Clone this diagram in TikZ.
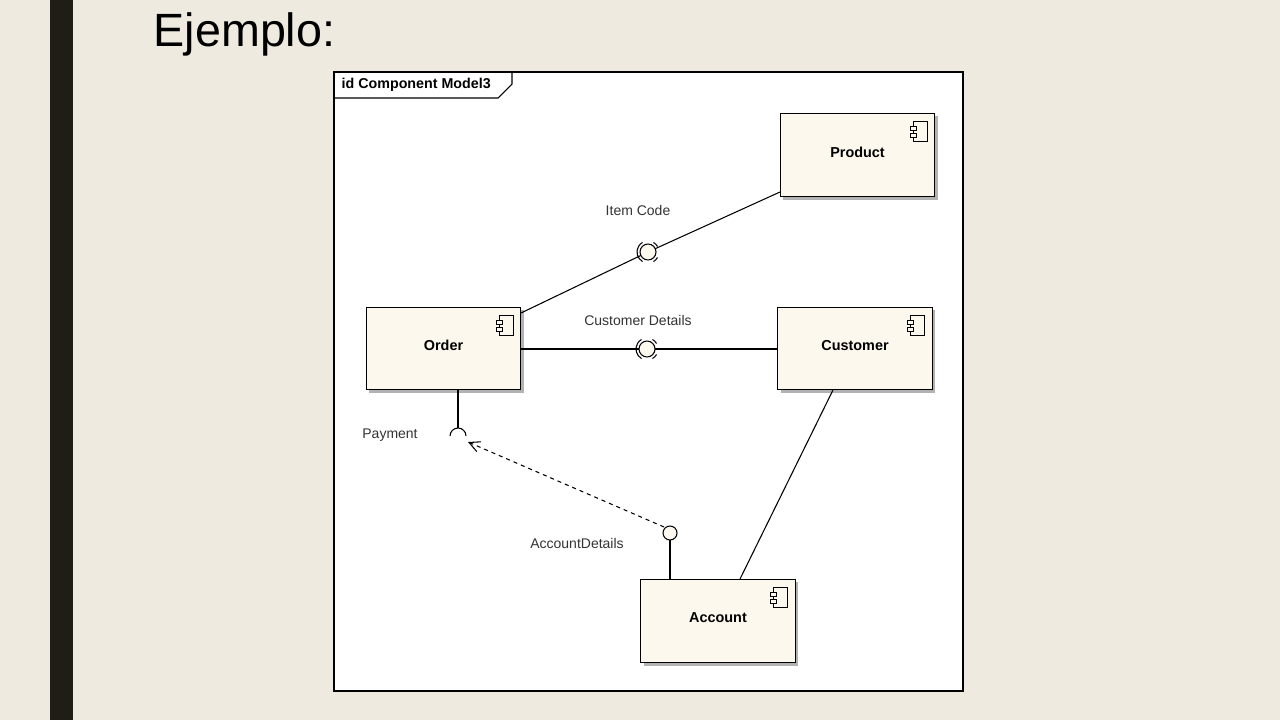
\documentclass[tikz,border=0pt]{standalone}
\usepackage{fontspec}
\setmainfont{Liberation Sans}
\usetikzlibrary{arrows.meta}
\definecolor{bg}{HTML}{EEEAE0}
\definecolor{bar}{HTML}{1E1E16}
\definecolor{cfill}{HTML}{FDF8EE}
\begin{document}
\begin{tikzpicture}[x=0.75pt,y=-0.75pt,
  comp/.style={draw=black,fill=cfill,line width=0.9pt,minimum width=116pt,minimum height=62pt},
  cname/.style={font=\fontsize{10.8}{12}\selectfont\bfseries},
  lbl/.style={font=\fontsize{10.5}{12}\selectfont,text=black!80},
  ln/.style={line width=0.8pt}]
\useasboundingbox (0,0) rectangle (1280,720);
\fill[bg] (0,0) rectangle (1280,720);
\fill[bar] (50,0) rectangle (73,720);
\node[anchor=west,font=\fontsize{35}{38}\selectfont] (title) at (149,34) {Ejemplo:};
% frame
\draw[fill=white,line width=0.8pt] (334,72) rectangle (963,691);
\draw[line width=0.8pt] (334,98) -- (498,98) -- (512,84) -- (512,72);
\node[anchor=west,font=\fontsize{10.7}{12}\selectfont\bfseries] (frl) at (337,85) {id Component Model3};
% shadows
\foreach \a/\b/\c/\d in {780/113/935/197, 366/307/521/390, 778/307/932/390, 641/579/795/663}
  \fill[black!30] (\a+3,\b+3) rectangle (\c+3,\d+3);
% components
\newcommand{\cicon}[2]{%
  \draw[fill=cfill,line width=0.6pt] (#1-6,#2-10) rectangle (#1+8,#2+10);
  \draw[fill=cfill,line width=0.6pt] (#1-9,#2-5) rectangle (#1-3,#2-1);
  \draw[fill=cfill,line width=0.6pt] (#1-9,#2+2) rectangle (#1-3,#2+6);}
\node[comp] (product) at (857.5,155) {};
\node[comp] (order) at (443.5,348.5) {};
\node[comp] (customer) at (855,348.5) {};
\node[comp] (account) at (718,621) {};
\node[cname] (tproduct) at (857.5,152) {Product};
\node[cname] (torder) at (443.5,345.5) {Order};
\node[cname] (tcustomer) at (855,345.5) {Customer};
\node[cname] (taccount) at (718,618) {Account};
\cicon{919}{131}
\cicon{505}{325}
\cicon{916}{325}
\cicon{779}{597}
% interfaces
\coordinate (ic) at (648,252);
\coordinate (cd) at (647,349);
\coordinate (pay) at (458,436);
\coordinate (ad) at (670,533);
\coordinate (oc) at (521,313);
\coordinate (pc) at (780,192);
\coordinate (ob) at (458,390);
\coordinate (pt) at (458,428);
\coordinate (ab) at (670,579);
\coordinate (cb) at (833,390);
\coordinate (at) at (740,579);
\draw[ln] (oc) -- (ic) -- (pc);
\draw[ln] (order.east |- cd) -- (cd) -- (customer.west |- cd);
\draw[ln] (ob) -- (pt);
\draw[ln] (ab) -- (ad);
\draw[ln] (cb) -- (at);
\foreach \p in {ic,cd}{
  \draw[ln,fill=cfill] (\p) circle (8);
  \draw[ln] (\p) ++(120:11) arc (120:240:11);
  \draw[ln] (\p) ++(-30:11) arc (-30:-60:11);
  \draw[ln] (\p) ++(30:11) arc (30:60:11);
}
\draw[ln] (pay) ++(0:8) arc (0:-180:8);
\draw[ln,fill=cfill] (ad) circle (7);
\draw[ln,dashed,-{Straight Barb[length=8pt,width=8pt]}] (664,527) -- (468,442);
% labels
\node[lbl] (l1) at (638,210) {Item Code};
\node[lbl] (l2) at (638,320) {Customer Details};
\node[lbl] (l3) at (390,435) {Payment};
\node[lbl] (l4) at (577,543) {AccountDetails};
\end{tikzpicture}
\end{document}
